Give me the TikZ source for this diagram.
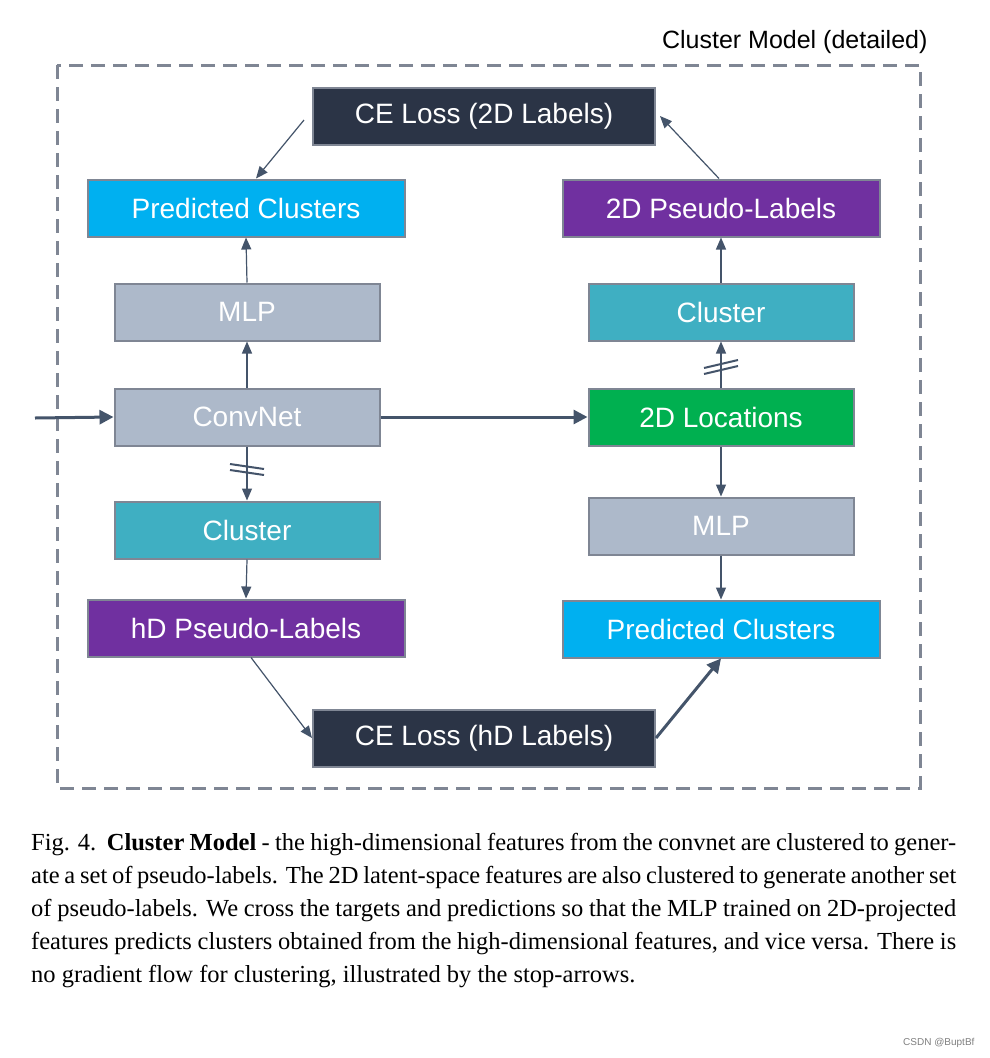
\documentclass[tikz,border=0pt]{standalone}
\usepackage{fontspec}
\setmainfont{Liberation Serif}
\newfontfamily\sansf{Liberation Sans}
\usetikzlibrary{arrows.meta}
\definecolor{navy}{HTML}{2B3446}
\definecolor{skyb}{HTML}{00B0F0}
\definecolor{steel}{HTML}{ADB9CA}
\definecolor{teal}{HTML}{3FAFC2}
\definecolor{purp}{HTML}{7030A0}
\definecolor{grn}{HTML}{00B050}
\definecolor{edge}{HTML}{7F8694}
\definecolor{arr}{HTML}{44546A}
\begin{document}
\begin{tikzpicture}[x=1pt,y=-1pt,
  box/.style={draw=edge,line width=2pt,minimum height=57pt,text=white,
    font=\sansf\fontsize{28}{30}\selectfont,inner sep=0pt},
  wide/.style={box,minimum width=317pt},
  mid/.style={box,minimum width=265pt},
  loss/.style={box,minimum width=342pt,fill=navy},
  link/.style={draw=arr,line width=1.2pt,-{Triangle[length=12pt,width=10pt]}},
  bold/.style={draw=arr,line width=3pt,-{Triangle[length=14pt,width=14pt]}},
  stop/.style={draw=arr,line width=2pt}]
\useasboundingbox (0,0) rectangle (990,1058);
\fill[white] (0,0) rectangle (990,1058);
\draw[edge,line width=3pt,dash pattern=on 14pt off 8pt] (57,65) rectangle (920,788);
\node[anchor=east,font=\sansf\fontsize{25}{27}\selectfont,text=black] (title) at (931,42) {Cluster Model (detailed)};
% left column
\node[loss] (ce2) at (484,116) {CE Loss (2D Labels)};
\node[wide,fill=skyb] (pcl) at (246,208) {Predicted Clusters};
\node[mid,fill=steel] (mlpl) at (247,312) {MLP};
\node[mid,fill=steel] (conv) at (247,417) {ConvNet};
\node[mid,fill=teal] (cll) at (247,530) {Cluster};
\node[wide,fill=purp] (hdp) at (246,628) {hD Pseudo-Labels};
\node[loss] (ceh) at (484,738) {CE Loss (hD Labels)};
% right column
\node[wide,fill=purp] (p2d) at (721,208) {2D Pseudo-Labels};
\node[mid,fill=teal] (clr) at (721,312) {Cluster};
\node[mid,fill=grn] (loc) at (721,417) {2D Locations};
\node[mid,fill=steel] (mlpr) at (721,526) {MLP};
\node[wide,fill=skyb] (pcr) at (721,629) {Predicted Clusters};
\coordinate (in) at (35,418);
% connectors
\draw[bold] (in) -- (conv.west);
\draw[bold] (conv.east) -- (loc.west);
\draw[link] (conv.north) -- (mlpl.south);
\draw[link] (mlpl.north) -- (pcl.south);
\draw[link] (ce2.west) ++(-8,4) -- ([xshift=10pt]pcl.north);
\draw[link] (conv.south) -- (cll.north);
\draw[link] (cll.south) -- (hdp.south |- hdp.north);
\draw[link] ([xshift=5pt]hdp.south) -- (ceh.west);
\draw[bold] (ceh.east) -- (pcr.south);
\draw[link] (loc.south) -- (mlpr.north);
\draw[link] (mlpr.south) -- (pcr.north);
\draw[link] (loc.north) -- (clr.south);
\draw[link] (clr.north) -- (p2d.south);
\draw[link] ([xshift=-2pt]p2d.north) -- ([xshift=4pt]ce2.east);
% stop marks
\draw[stop] (230,464) -- (264,469) (230,470) -- (264,475);
\draw[stop] (704,374) -- (738,366) (704,368) -- (738,360);
% caption
\node[anchor=north west,text width=925pt,align=justify,inner sep=0pt,
  font=\fontsize{24.5}{33}\selectfont] (cap) at (31,833)
 {Fig. 4.\ \ \textbf{Cluster Model} - the high-dimensional features from the convnet are clustered to generate a set of pseudo-labels. The 2D latent-space features are also clustered to generate another set of pseudo-labels. We cross the targets and predictions so that the MLP trained on 2D-projected features predicts clusters obtained from the high-dimensional features, and vice versa. There is no gradient flow for clustering, illustrated by the stop-arrows.};
\node[anchor=east,text=gray,font=\sansf\fontsize{10}{12}\selectfont] (wm) at (978,1043) {CSDN @BuptBf};
\end{tikzpicture}
\end{document}
